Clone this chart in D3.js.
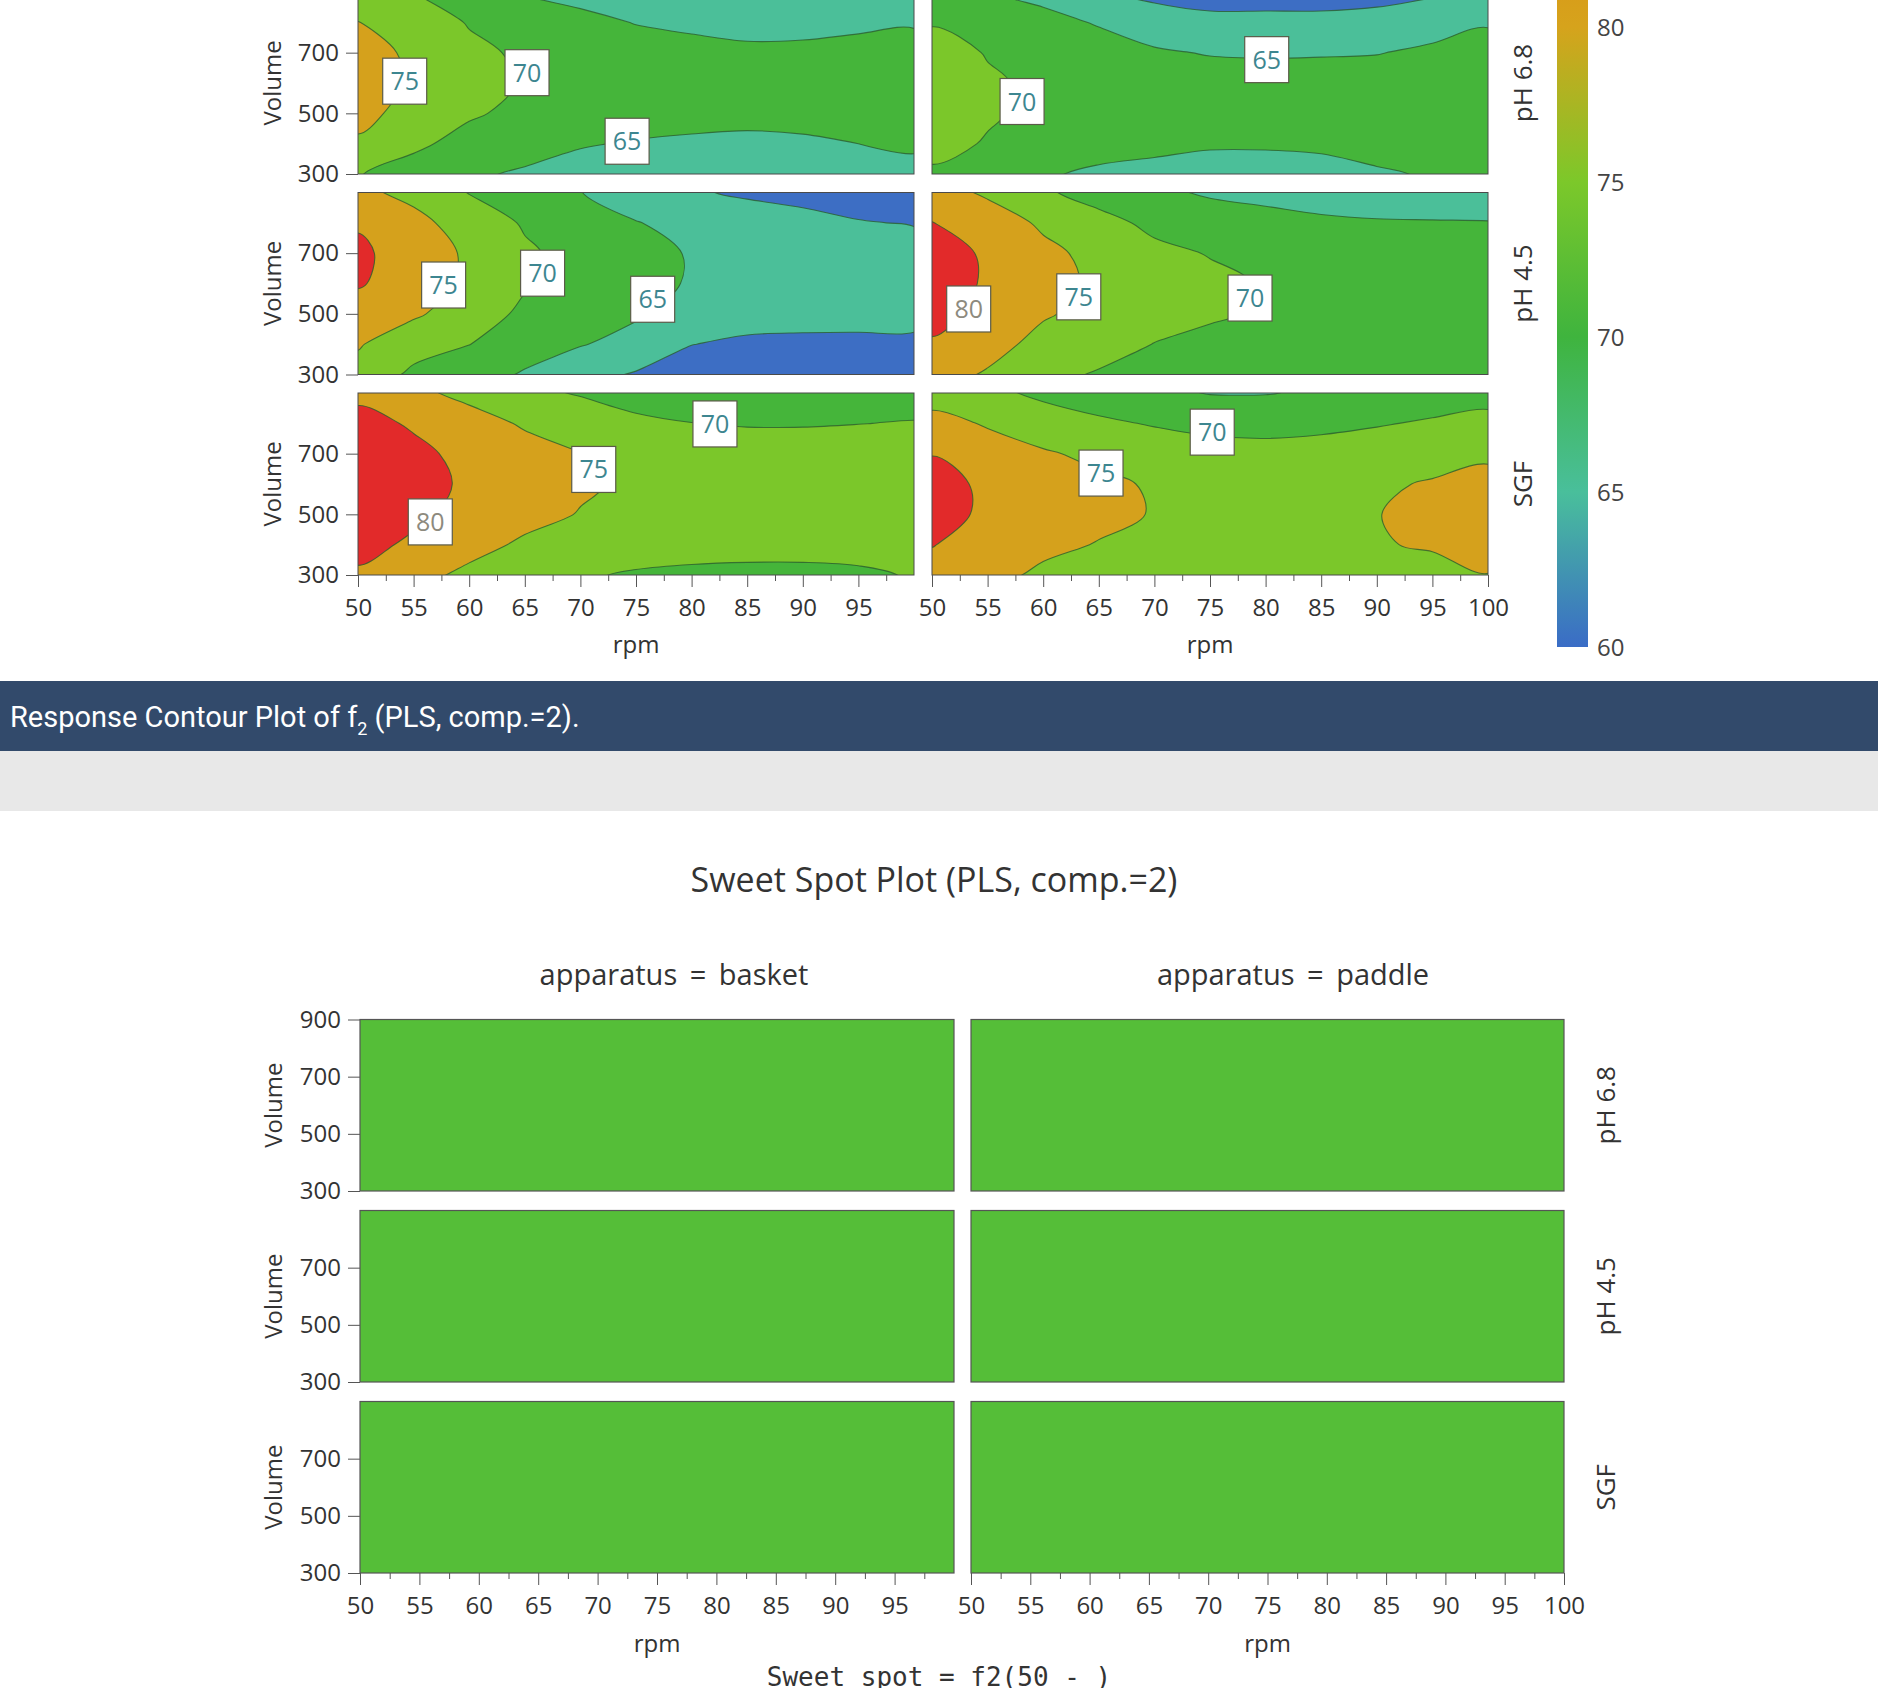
<!doctype html>
<html>
<head>
<meta charset="UTF-8">
<title>f2 contour and sweet spot</title>
<script src="https://cdn.jsdelivr.net/npm/d3@7"></script>
<style>
  body { margin: 0; background: #fff; }
  svg { display: block; }
  text { font-family: "Open Sans", sans-serif; fill: #333; }
</style>
</head>
<body>
<svg width="1878" height="1688"></svg>
<script>
// grid of the model surface
var rpmGrid = [50, 55, 60, 65, 70, 75, 80, 85, 90, 95, 100];
var volGrid = [300, 400, 500, 600, 700, 800, 900];
var apparatus = ["basket", "paddle"];
var media = ["pH 6.8", "pH 4.5", "SGF"];
var levels = [60, 65, 70, 75, 80];
var colorbarTicks = [60, 65, 70, 75, 80];
var rpmTicks = [50, 55, 60, 65, 70, 75, 80, 85, 90, 95, 100];
var rpmMinor = [52.5, 57.5, 62.5, 67.5, 72.5, 77.5, 82.5, 87.5, 92.5, 97.5];
var volTicks = [300, 500, 700, 900];
var sweetSpotMin = 50;

// f2 values: one row per volume (300 -> 900), one column per rpm (50 -> 100)
var basketPH68 = [
  [70.2, 68.3, 65.8, 64.3, 63.5, 62.8, 62.5, 62.5, 62.8, 63.4, 64.0],
  [74.2, 70.8, 68.6, 67.2, 65.3, 64.7, 64.3, 64.1, 64.4, 65.0, 65.5],
  [76.7, 73.0, 70.5, 69.0, 67.6, 66.9, 66.5, 66.2, 66.3, 66.5, 66.8],
  [78.0, 74.2, 71.5, 69.7, 68.6, 68.0, 67.5, 67.2, 67.0, 67.1, 67.2],
  [77.3, 74.0, 71.0, 69.3, 68.3, 67.4, 66.6, 65.9, 66.0, 66.3, 66.6],
  [75.1, 72.6, 69.7, 67.8, 66.4, 64.8, 64.0, 63.5, 63.6, 64.2, 64.6],
  [71.5, 69.9, 66.8, 64.6, 63.3, 61.5, 61.0, 61.0, 61.2, 61.8, 62.5]
];
var paddlePH68 = [
  [69.2, 67.2, 65.5, 64.2, 63.8, 63.5, 63.5, 63.8, 64.6, 65.3, 66.0],
  [71.7, 69.6, 67.6, 66.8, 66.0, 65.4, 65.4, 65.6, 66.2, 66.8, 67.4],
  [73.2, 70.6, 68.8, 68.0, 67.5, 67.3, 67.2, 67.3, 67.5, 68.0, 68.5],
  [73.5, 70.7, 69.0, 68.2, 67.7, 67.4, 67.2, 67.3, 67.6, 68.0, 68.6],
  [72.3, 69.7, 68.3, 67.2, 65.6, 64.7, 64.5, 64.6, 64.8, 66.0, 67.3],
  [69.6, 67.5, 66.5, 64.6, 62.3, 61.5, 61.5, 61.5, 61.8, 62.8, 64.5],
  [66.5, 65.3, 63.5, 60.5, 58.7, 57.5, 57.5, 57.5, 58.2, 59.3, 60.2]
];
var basketPH45 = [
  [73.4, 69.0, 66.8, 64.6, 61.5, 59.6, 57.3, 55.8, 55.5, 55.5, 55.6],
  [75.4, 72.0, 70.1, 66.8, 65.3, 63.2, 60.1, 59.0, 58.8, 58.7, 58.7],
  [77.6, 75.7, 72.6, 69.0, 67.2, 65.6, 63.2, 62.3, 62.0, 62.0, 62.0],
  [80.5, 77.4, 74.0, 70.5, 68.2, 66.6, 64.6, 63.8, 63.6, 63.5, 63.4],
  [81.0, 77.6, 74.3, 70.7, 68.4, 66.4, 64.7, 63.9, 63.6, 63.2, 62.8],
  [79.5, 76.3, 73.0, 69.5, 67.4, 65.2, 63.4, 62.5, 61.8, 60.4, 59.6],
  [76.0, 73.8, 69.8, 66.8, 65.1, 62.4, 60.5, 59.3, 58.2, 56.8, 56.0]
];
var paddlePH45 = [
  [77.0, 74.5, 71.2, 69.6, 68.3, 67.4, 66.8, 66.5, 66.4, 66.5, 66.7],
  [79.5, 76.8, 73.5, 71.8, 69.9, 69.0, 68.2, 67.7, 67.5, 67.5, 67.7],
  [81.5, 78.7, 75.5, 73.5, 71.6, 70.5, 69.5, 68.8, 68.5, 68.4, 68.5],
  [82.2, 79.5, 76.5, 74.2, 72.0, 70.9, 69.7, 69.0, 68.6, 68.5, 68.5],
  [82.0, 79.4, 76.2, 73.6, 71.0, 69.8, 68.7, 68.0, 67.5, 67.4, 67.4],
  [80.1, 77.8, 74.2, 71.4, 69.0, 67.6, 66.7, 65.8, 65.4, 65.3, 65.2],
  [77.3, 74.2, 70.6, 68.3, 66.0, 64.4, 63.6, 62.9, 62.4, 62.2, 62.1]
];
var basketSGF = [
  [79.3, 76.4, 74.0, 72.0, 70.4, 69.6, 69.2, 69.0, 69.0, 69.3, 70.3],
  [81.5, 79.2, 76.5, 74.3, 72.6, 71.8, 71.5, 71.4, 71.4, 71.6, 72.2],
  [83.2, 81.0, 78.5, 76.4, 74.8, 73.6, 73.2, 73.1, 73.1, 73.3, 73.7],
  [84.0, 81.6, 79.3, 77.2, 75.6, 74.2, 73.8, 73.6, 73.6, 73.8, 74.2],
  [83.5, 81.2, 78.6, 76.6, 75.1, 73.5, 73.0, 72.8, 72.8, 73.0, 73.4],
  [81.7, 79.4, 76.8, 74.5, 73.0, 71.2, 70.1, 69.6, 69.6, 69.9, 70.3],
  [78.8, 76.0, 73.8, 71.2, 69.6, 67.6, 66.5, 66.2, 66.3, 66.7, 67.3]
];
var paddleSGF = [
  [78.0, 76.3, 74.2, 72.8, 72.0, 71.8, 72.0, 72.8, 74.3, 74.0, 74.9],
  [80.2, 77.8, 76.0, 74.8, 73.8, 73.2, 73.2, 73.8, 74.8, 75.3, 76.8],
  [82.2, 79.0, 77.2, 76.0, 74.8, 74.0, 73.8, 74.2, 74.9, 76.0, 77.3],
  [82.4, 78.8, 77.0, 75.8, 74.6, 73.8, 73.5, 73.8, 74.5, 75.3, 76.5],
  [79.8, 77.0, 75.5, 74.0, 73.0, 72.0, 71.7, 72.0, 72.8, 73.6, 74.2],
  [76.5, 74.6, 72.5, 70.9, 69.6, 68.6, 68.3, 68.8, 69.6, 70.6, 71.5],
  [73.0, 71.2, 69.0, 67.3, 66.0, 64.8, 64.8, 65.6, 66.4, 67.3, 68.2]
];
var surfaces = [
  [basketPH68, paddlePH68],
  [basketPH45, paddlePH45],
  [basketSGF, paddleSGF]
];

// contour labels: [row, col], level, rpm, volume
var labelPanel = [[0,0],[0,0],[0,0],[0,1],[0,1],[1,0],[1,0],[1,0],[1,1],[1,1],[1,1],[2,0],[2,0],[2,0],[2,1],[2,1]];
var labelLevel = [75, 70, 65, 70, 65, 75, 70, 65, 80, 75, 70, 80, 75, 70, 75, 70];
var labelRpm = [54.2, 65.2, 74.2, 58.1, 80.1, 57.7, 66.6, 76.5, 53.3, 63.2, 78.6, 56.5, 71.2, 82.1, 65.2, 75.2];
var labelVol = [606, 634, 408, 539, 677, 595, 634, 548, 516, 556, 552, 475, 648, 798, 636, 771];

var bandColors = ["#3d6ec4", "#4bbf99", "#45b53a", "#7bc72a", "#d5a11c", "#e22a2a"];
var barColors = ["#3a6cc6", "#49bf9b", "#3fb43e", "#7cc82a", "#d6a31c", "#dd8a12"];
var sweetColor = "#55be38";

var svg = d3.select("svg");
var defs = svg.append("defs");

var gx = d3.scaleLinear().domain([0.5, rpmGrid.length - 0.5]).range([rpmGrid[0], rpmGrid[rpmGrid.length - 1]]);
var gy = d3.scaleLinear().domain([0.5, volGrid.length - 0.5]).range([volGrid[0], volGrid[volGrid.length - 1]]);
var ringLine = d3.line().curve(d3.curveCatmullRomClosed.alpha(0.5));

function contourPath(geom, x, y) {
  return geom.coordinates.map(function(poly) {
    return poly.map(function(r) {
      var pts = r.slice(0, -1).map(function(p) { return [x(gx(p[0])), y(gy(p[1]))]; });
      return ringLine(pts);
    }).join("");
  }).join("");
}

function clipFor(id, x, y) {
  defs.append("clipPath").attr("id", id).append("rect")
    .attr("x", x(50)).attr("y", y(900))
    .attr("width", x(100) - x(50)).attr("height", y(300) - y(900));
  return "url(#" + id + ")";
}

function drawAxes(xs, ys, opts) {
  // y axis on left panels
  ys.forEach(function(y, i) {
    var ticks = i === 0 ? volTicks : volTicks.slice(0, 3);
    var ax = svg.append("g").attr("transform", "translate(" + xs[0](50) + ",0)")
      .call(d3.axisLeft(y).tickValues(ticks).tickSize(12).tickPadding(7));
    ax.select(".domain").remove();
    ax.selectAll("line").attr("stroke", "#555");
    ax.selectAll("text").style("fill", "#333").style("font-size", "24px");
    svg.append("text")
      .attr("transform", "translate(" + opts.volX + "," + (y(600)) + ") rotate(-90)")
      .attr("text-anchor", "middle").attr("dy", "0.35em")
      .style("font-size", "24px").text("Volume");
    svg.append("text")
      .attr("transform", "translate(" + opts.stripX + "," + (y(600)) + ") rotate(-90)")
      .attr("text-anchor", "middle").attr("dy", "0.35em")
      .style("font-size", "26px").text(media[i]);
  });
  var yb = ys[ys.length - 1];
  xs.forEach(function(x, j) {
    var ticks = j === 0 ? rpmTicks.slice(0, 10) : rpmTicks;
    var ax = svg.append("g").attr("transform", "translate(0," + yb(300) + ")")
      .call(d3.axisBottom(x).tickValues(ticks).tickSize(12).tickPadding(12));
    ax.select(".domain").remove();
    ax.selectAll("line").attr("stroke", "#555");
    ax.selectAll("text").style("fill", "#333").style("font-size", "24px");
    var mn = svg.append("g").attr("transform", "translate(0," + yb(300) + ")")
      .call(d3.axisBottom(x).tickValues(rpmMinor).tickSize(6).tickFormat(""));
    mn.select(".domain").remove();
    mn.selectAll("line").attr("stroke", "#555");
    svg.append("text").attr("x", (x(50) + x(100)) / 2).attr("y", opts.rpmY)
      .attr("text-anchor", "middle").style("font-size", "24px").text("rpm");
  });
}

// ---------- response contour plot ----------
var cx = [d3.scaleLinear().domain([50, 100]).range([358, 914]),
          d3.scaleLinear().domain([50, 100]).range([932, 1488])];
var cy = media.map(function(m, i) {
  var bottom = 174 + i * 200.5;
  return d3.scaleLinear().domain([300, 900]).range([bottom, bottom - 182]);
});
var contours = d3.contours().size([rpmGrid.length, volGrid.length]).thresholds(levels);

surfaces.forEach(function(row, i) {
  row.forEach(function(grid, j) {
    var x = cx[j], y = cy[i];
    var g = svg.append("g").attr("clip-path", clipFor("c" + i + j, x, y));
    g.append("rect").attr("x", x(50)).attr("y", y(900))
      .attr("width", x(100) - x(50)).attr("height", y(300) - y(900))
      .attr("fill", bandColors[0]);
    g.selectAll("path").data(contours(d3.merge(grid))).enter().append("path")
      .attr("d", function(d) { return contourPath(d, x, y); })
      .attr("fill", function(d, k) { return bandColors[k + 1]; })
      .attr("fill-rule", "evenodd")
      .attr("stroke", "#2c5e2e").attr("stroke-width", 1.1).attr("stroke-opacity", 0.8);
    svg.append("rect").attr("x", x(50)).attr("y", y(900))
      .attr("width", x(100) - x(50)).attr("height", y(300) - y(900))
      .attr("fill", "none").attr("stroke", "#4a4a4a").attr("stroke-width", 1);
  });
});

labelLevel.forEach(function(lv, k) {
  var i = labelPanel[k][0], j = labelPanel[k][1];
  var px = cx[j](labelRpm[k]), py = cy[i](labelVol[k]);
  svg.append("rect").attr("x", px - 22).attr("y", py - 23).attr("width", 44).attr("height", 46)
    .attr("fill", "#fff").attr("stroke", "#5b5b48").attr("stroke-width", 1.2);
  svg.append("text").attr("x", px).attr("y", py).attr("dy", "0.36em")
    .attr("text-anchor", "middle").style("font-size", "25px")
    .style("fill", lv >= 80 ? "#8d8a7e" : "#3d8690").text(lv);
});

drawAxes(cx, cy, { volX: 273, stripX: 1523, rpmY: 653 });

// colour bar
var cb = d3.scaleLinear().domain([60, 85]).range([647, -128]);
var grad = defs.append("linearGradient").attr("id", "cbar")
  .attr("x1", 0).attr("x2", 0).attr("y1", 1).attr("y2", 0);
[60, 65, 70, 75, 80, 85].forEach(function(v, k) {
  grad.append("stop").attr("offset", (v - 60) / 25).attr("stop-color", barColors[k]);
});
svg.append("rect").attr("x", 1557).attr("y", cb(85)).attr("width", 31)
  .attr("height", cb(60) - cb(85)).attr("fill", "url(#cbar)");
colorbarTicks.forEach(function(v) {
  svg.append("text").attr("x", 1597).attr("y", cb(v)).attr("dy", "0.36em")
    .style("font-size", "24px").style("fill", "#444").text(v);
});

// ---------- caption banner ----------
svg.append("rect").attr("x", 0).attr("y", 681).attr("width", 1878).attr("height", 70).attr("fill", "#324a6b");
svg.append("rect").attr("x", 0).attr("y", 751).attr("width", 1878).attr("height", 60).attr("fill", "#e8e8e8");
var cap = svg.append("text").attr("x", 10).attr("y", 727)
  .style("font-family", "Roboto, sans-serif").style("font-size", "29px").style("fill", "#fff");
cap.append("tspan").text("Response Contour Plot of f");
cap.append("tspan").attr("dy", 8).style("font-size", "18px").text("2");
cap.append("tspan").attr("dy", -8).text(" (PLS, comp.=2).");

// ---------- sweet spot plot ----------
svg.append("text").attr("x", 934).attr("y", 892).attr("text-anchor", "middle")
  .style("font-size", "34px").text("Sweet Spot Plot (PLS, comp.=2)");
var sx = [d3.scaleLinear().domain([50, 100]).range([360, 954]),
          d3.scaleLinear().domain([50, 100]).range([971, 1564])];
var sy = media.map(function(m, i) {
  var top = 1019.5 + i * 191;
  return d3.scaleLinear().domain([300, 900]).range([top + 171.5, top]);
});
var stripCenters = [674, 1293];
apparatus.forEach(function(a, j) {
  svg.append("text").attr("x", stripCenters[j]).attr("y", 985).attr("text-anchor", "middle")
    .style("font-size", "29px").style("word-spacing", "5px").text("apparatus = " + a);
});
var sweet = d3.contours().size([rpmGrid.length, volGrid.length]).thresholds([sweetSpotMin]);
surfaces.forEach(function(row, i) {
  row.forEach(function(grid, j) {
    var x = sx[j], y = sy[i];
    var g = svg.append("g").attr("clip-path", clipFor("s" + i + j, x, y));
    g.selectAll("path").data(sweet(d3.merge(grid))).enter().append("path")
      .attr("d", function(d) { return contourPath(d, x, y); })
      .attr("fill", sweetColor).attr("fill-rule", "evenodd");
    svg.append("rect").attr("x", x(50)).attr("y", y(900))
      .attr("width", x(100) - x(50)).attr("height", y(300) - y(900))
      .attr("fill", "none").attr("stroke", "#555").attr("stroke-width", 1.2);
  });
});
drawAxes(sx, sy, { volX: 274, stripX: 1606, rpmY: 1652 });

svg.append("text").attr("x", 939).attr("y", 1686).attr("text-anchor", "middle")
  .style("font-family", "'DejaVu Sans Mono', 'Liberation Mono', monospace").style("font-size", "26px")
  .text("Sweet spot = f2(" + sweetSpotMin + " - )");
</script>
</body>
</html>
